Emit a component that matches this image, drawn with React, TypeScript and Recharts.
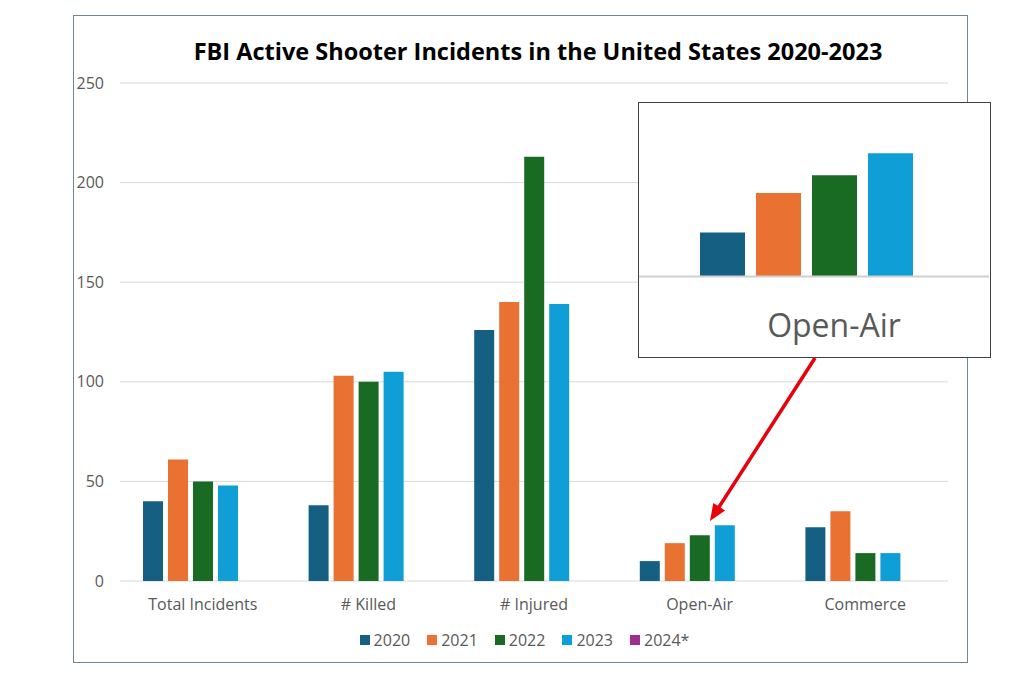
import { BarChart, Bar, XAxis, YAxis, CartesianGrid, Legend } from "recharts";

const categories = ["Total Incidents", "# Killed", "# Injured", "Open-Air", "Commerce"];
const v2020 = [40, 38, 126, 10, 27];
const v2021 = [61, 103, 140, 19, 35];
const v2022 = [50, 100, 213, 23, 14];
const v2023 = [48, 105, 139, 28, 14];
const v2024: (number | null)[] = [null, null, null, null, null];
const yTicks = [0, 50, 100, 150, 200, 250];

const seriesKeys = ["2020", "2021", "2022", "2023", "2024*"];
const seriesValues = [v2020, v2021, v2022, v2023, v2024];
const seriesColors = ["#156082", "#E97132", "#196B24", "#0F9ED5", "#A02B93"];

const title = "FBI Active Shooter Incidents in the United States 2020-2023";
const insetCategory = "Open-Air";

const data = categories.map((name, i) => {
  const row: Record<string, string | number | null> = { name };
  seriesKeys.forEach((k, s) => (row[k] = seriesValues[s][i]));
  return row;
});
const insetData = data.filter((d) => d.name === insetCategory);

const FONT = "'Open Sans', 'Liberation Sans', sans-serif";
const GRAY = "#595959";

const LegendRow = () => (
  <div
    style={{
      height: 24,
      display: "flex",
      justifyContent: "center",
      alignItems: "center",
      paddingLeft: 28,
      fontFamily: FONT,
      fontSize: 16,
      color: GRAY,
    }}
  >
    {seriesKeys.map((k, i) => (
      <div key={k} style={{ display: "flex", alignItems: "center", marginRight: i < seriesKeys.length - 1 ? 17 : 0 }}>
        <span style={{ width: 10, height: 10, background: seriesColors[i], marginRight: 4 }} />
        <span>{k}</span>
      </div>
    ))}
  </div>
);

// arrow from the inset down to the open-air group
const arrowTail = { x: 815, y: 358 };
const arrowTip = { x: 710, y: 521 };
const arrowLen = Math.hypot(arrowTip.x - arrowTail.x, arrowTip.y - arrowTail.y);
const ux = (arrowTip.x - arrowTail.x) / arrowLen;
const uy = (arrowTip.y - arrowTail.y) / arrowLen;

const arrowHead = () => {
  const bx = arrowTip.x - ux * 17;
  const by = arrowTip.y - uy * 17;
  const w = 7;
  return `${arrowTip.x},${arrowTip.y} ${bx - uy * w},${by + ux * w} ${bx + uy * w},${by - ux * w}`;
};

export default function App() {
  return (
    <div style={{ position: "absolute", left: 0, top: 0, width: 1024, height: 673, background: "#fff" }}>
      <div
        style={{
          position: "absolute",
          left: 73,
          top: 15,
          width: 895,
          height: 648,
          border: "1.5px solid #6d8796",
          boxSizing: "border-box",
        }}
      />
      <div
        style={{
          position: "absolute",
          left: 73,
          top: 37,
          width: 930,
          textAlign: "center",
          fontFamily: FONT,
          fontWeight: 700,
          fontSize: 23.5,
          lineHeight: "28px",
          color: "#000",
        }}
      >
        {title}
      </div>
      <div style={{ position: "absolute", left: 73, top: 15 }}>
        <BarChart
          width={895}
          height={648}
          data={data}
          margin={{ top: 68, right: 20, left: 0, bottom: 11 }}
          barSize={20}
          barGap={5}
        >
          <CartesianGrid horizontal vertical={false} stroke="#d9d9d9" strokeWidth={1} />
          <YAxis
            domain={[0, 250]}
            ticks={yTicks}
            width={47}
            axisLine={false}
            tickLine={false}
            tickSize={0}
            tickMargin={16}
            tick={{ fill: GRAY, fontSize: 16, fontFamily: FONT }}
          />
          <XAxis
            dataKey="name"
            height={47}
            axisLine={false}
            tickLine={false}
            tickSize={0}
            tickMargin={18}
            tick={{ fill: GRAY, fontSize: 16, fontFamily: FONT }}
          />
          <Legend verticalAlign="bottom" content={() => <LegendRow />} />
          {seriesKeys.map((k, i) => (
            <Bar key={k} dataKey={k} fill={seriesColors[i]} isAnimationActive={false} />
          ))}
        </BarChart>
      </div>
      <div
        style={{
          position: "absolute",
          left: 638,
          top: 102,
          width: 353,
          height: 256,
          border: "1.5px solid #404040",
          boxSizing: "border-box",
          background: "#fff",
        }}
      >
        <BarChart
          width={350}
          height={253}
          data={insetData}
          margin={{ top: 2, right: 0, left: 0, bottom: 0 }}
          barSize={45}
          barGap={11}
        >
          <YAxis hide domain={[0, 39]} />
          <XAxis
            dataKey="name"
            height={79.5}
            padding={{ left: 40, right: 0 }}
            axisLine={{ stroke: "#d0d0d0", strokeWidth: 2 }}
            tickLine={false}
            tickSize={0}
            tickMargin={38}
            tick={{ fill: GRAY, fontSize: 32, fontFamily: FONT }}
          />
          {seriesKeys.map((k, i) => (
            <Bar key={k} dataKey={k} fill={seriesColors[i]} isAnimationActive={false} />
          ))}
        </BarChart>
      </div>
      <svg
        width={1024}
        height={673}
        style={{ position: "absolute", left: 0, top: 0, pointerEvents: "none" }}
      >
        <line
          x1={arrowTail.x}
          y1={arrowTail.y}
          x2={arrowTip.x - ux * 14}
          y2={arrowTip.y - uy * 14}
          stroke="#e8000b"
          strokeWidth={3.5}
        />
        <polygon points={arrowHead()} fill="#e8000b" />
      </svg>
    </div>
  );
}
